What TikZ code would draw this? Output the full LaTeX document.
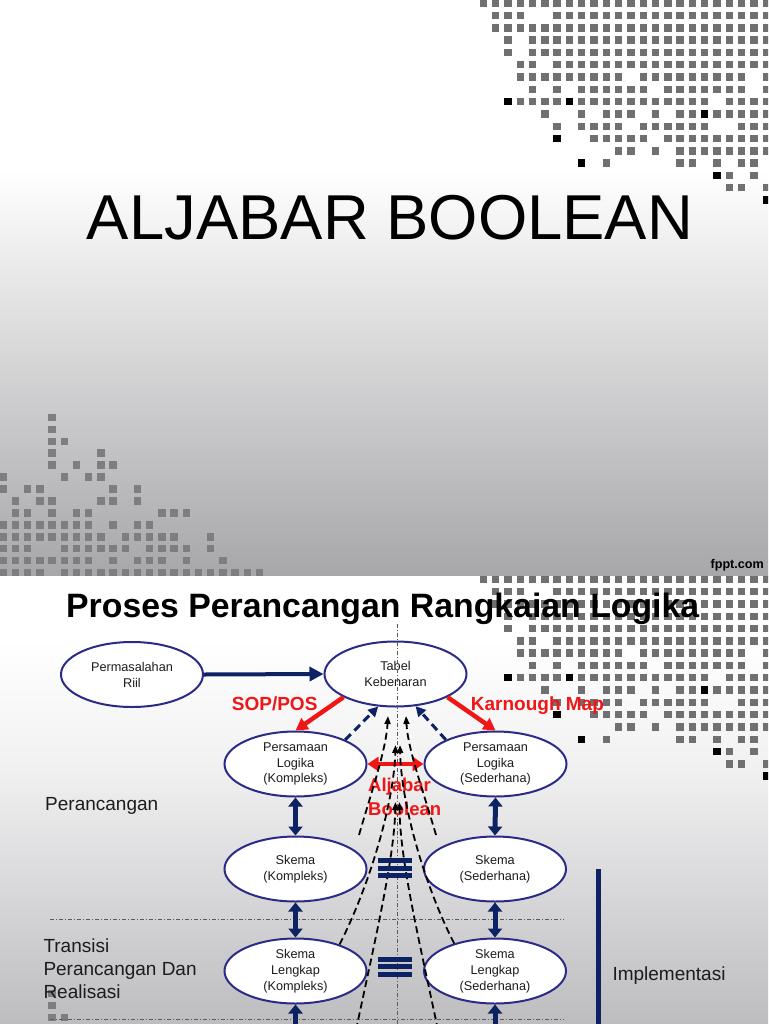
\documentclass[tikz,border=0pt]{standalone}
\usepackage{fontspec}
\setmainfont{Liberation Sans}
\usetikzlibrary{shapes.geometric,arrows.meta}
\definecolor{ellc}{RGB}{43,43,135}
\definecolor{navy}{RGB}{12,34,98}
\definecolor{redc}{RGB}{240,22,22}
\definecolor{sqg}{RGB}{112,112,112}
\definecolor{sqb}{RGB}{126,126,129}
\definecolor{txt}{RGB}{28,28,28}
\definecolor{bgA}{RGB}{167,167,170}
\definecolor{bgB}{RGB}{242,242,243}
\definecolor{bgC}{RGB}{189,189,192}
\definecolor{dd}{RGB}{90,90,90}
\newcommand\myfs[2]{\fontsize{#1}{#2}\selectfont}
\newcommand\trpattern[1]{%
  \foreach \r/\cl in {0/{0,...,23},1/{1,2,3,6,7,...,23},2/{1,...,23},3/{2,4,5,...,23},4/{2,4,5,...,23},5/{3,4,6,7,...,23},6/{3,4,...,11,13,14,...,21,23},7/{4,6,8,9,...,13,15,16,...,21,23},8/{3,4,5,6,8,9,...,18,20,21,22,23},9/{5,8,10,11,12,14,16,17,19,20,...,23},10/{6,8,9,10,11,13,14,...,18,21,22,23},11/{9,10,...,13,15,16,...,23},12/{11,12,14,16,17,...,23},13/{10,16,17,19,21,22},14/{20,22},15/{20,21,23}}{%
    \foreach \c in \cl {\fill[sqg] ({483.3+12.3*\c-3.7},{#1+3.3+12.3*\r-3.7}) rectangle ++(7.4,7.4);}}
  \foreach \c/\r in {2/8,7/8,18/9,6/11,8/13,19/14,23/16}{%
    \fill[black] ({483.3+12.3*\c-3.7},{#1+3.3+12.3*\r-3.7}) rectangle ++(7.4,7.4);}}
\newcommand\blpattern[1]{%
  \foreach \r/\cl in {0/{4},1/{4},2/{4,5},3/{4,8},4/{4,6,8,9},5/{0,5,7,8},6/{0,2,3,9,11},7/{1,3,4,8,9,11},8/{1,2,4,6,7,13,14,15},9/{0,...,7,9,11,12},10/{0,...,8,10,11,...,14,17},11/{0,1,2,5,6,...,10,12,13,14,15,17},12/{0,...,7,9,11,12,13,15,18},13/{0,...,3,5,6,...,21}}{%
    \foreach \c in \cl {\fill[sqb] ({3.3+12.2*\c-3.7},{#1+417.3+11.95*\r-3.7}) rectangle ++(7.4,7.4);}}}
\begin{document}
\begin{tikzpicture}[x=1pt,y=-1pt,
  ell/.style={ellipse, draw=ellc, line width=2pt, fill=white, minimum width=142pt, minimum height=65pt, inner sep=0pt, align=center, text=txt, font=\myfs{12.7}{15.8}},
  navyarr/.style={navy, line width=4pt, -{Triangle[length=14pt,width=14pt]}},
  redarr/.style={redc, line width=4.5pt, -{Triangle[length=12pt,width=13pt]}},
  dblarr/.style={navy, line width=5pt, {Triangle[length=9pt,width=14pt]}-{Triangle[length=9pt,width=14pt]}},
  ndash/.style={navy, line width=3pt, dash pattern=on 8pt off 5pt, -{Triangle[length=10pt,width=10pt]}},
  bdash/.style={black, line width=1.8pt, dash pattern=on 7pt off 4pt, -{Triangle[length=8pt,width=6pt]}},
  ddot/.style={dd, line width=0.7pt, dash pattern=on 4pt off 2pt on 1pt off 2pt},
  redlab/.style={text=redc, font=\bfseries\myfs{19}{23}, inner sep=0pt, anchor=base west},
  lab/.style={text=txt, font=\myfs{19}{22.8}, inner sep=0pt, anchor=base west, align=left},
  bars/.style={navy}
]
\useasboundingbox (0,0) rectangle (768,1024);
\clip (0,0) rectangle (768,1024);
% ---------- slide 1 background ----------
\fill[white] (0,0) rectangle (768,171);
\shade[top color=white, bottom color=bgA] (0,170) rectangle (768,576);
\trpattern{0}
\blpattern{0}
\node[anchor=base, font=\myfs{63.4}{70}, inner sep=0pt, text=black] (t1) at (390,240) {ALJABAR BOOLEAN};
\node[anchor=base east, font=\bfseries\myfs{12.6}{14}, inner sep=0pt, text=black] (fp) at (764,568.3) {fppt.com};
% ---------- slide 2 background ----------
\fill[white] (0,576) rectangle (768,640);
\shade[top color=white, bottom color=bgB] (0,639) rectangle (768,761);
\shade[top color=bgB, bottom color=bgC] (0,760) rectangle (768,1024);
\trpattern{576}
\blpattern{576}
% ---------- slide 2 content ----------
\node[anchor=base west, font=\bfseries\myfs{33.8}{40}, inner sep=0pt, text=black] (t2) at (66,617) {Proses Perancangan Rangkaian Logika};
\node[lab] (per) at (45,810) {Perancangan};
\node[lab] (tr) at (43.3,998.3) {Transisi\\Perancangan Dan\\Realisasi};
\node[lab] (imp) at (612.3,980.7) {Implementasi};
\coordinate (h1a) at (50,919.5); \coordinate (h1b) at (564,919.5);
\coordinate (h2a) at (50,1019.5); \coordinate (h2b) at (564,1019.5);
\draw[ddot] (h1a) -- (h1b);
\draw[ddot] (h2a) -- (h2b);
\node[ell] (pr) at (132,674.5) {Permasalahan\\Riil};
\node[ell] (tk) at (395.5,674) {Tabel\\Kebenaran};
\node[ell] (pk) at (295.5,764) {Persamaan\\Logika\\(Kompleks)};
\node[ell] (ps) at (495.5,764) {Persamaan\\Logika\\(Sederhana)};
\node[ell] (sk) at (295.5,869) {Skema\\(Kompleks)};
\node[ell] (ss) at (495,869) {Skema\\(Sederhana)};
\node[ell] (lk) at (295.5,971) {Skema\\Lengkap\\(Kompleks)};
\node[ell] (ls) at (495,971) {Skema\\Lengkap\\(Sederhana)};
\coordinate (v1) at (397,624); \coordinate (v2) at (397,1024);
\draw[ddot] (v1) -- (v2);
\node[redlab] (sop) at (231.7,710.7) {SOP/POS};
\node[redlab] (km) at (470.7,710.7) {Karnough Map};
\node[redlab, font=\bfseries\myfs{18.5}{23.3}, align=left] (ab) at (368,815) {Aljabar\\Boolean};
\draw[navyarr] (pr.east) -- (tk.west);
\draw[redarr] (tk.204) -- (pk.north);
\draw[redarr] (tk.-24) -- (ps.north);
\draw[ndash] (pk.26) -- (tk.-118);
\draw[ndash] (ps.154) -- (tk.-58);
\draw[redc, line width=4.5pt, {Triangle[length=11pt,width=14pt]}-{Triangle[length=11pt,width=14pt]}] (pk.east) -- (ps.west);
\draw[dblarr] (pk.south) -- (sk.north);
\draw[dblarr] (ps.south) -- (ss.north);
\draw[dblarr] (sk.south) -- (lk.north);
\draw[dblarr] (ss.south) -- (ls.north);
\coordinate (lkout) at (295.5,1050);
\coordinate (lsout) at (495,1050);
\draw[dblarr] (lk.south) -- (lkout);
\draw[dblarr] (ls.south) -- (lsout);
% black dashed sweep curves
\coordinate (a0) at (359,835); \coordinate (a1) at (388,716);
\coordinate (b0) at (436,835); \coordinate (b1) at (406,716);
\coordinate (c1) at (395.5,745); \coordinate (d1) at (400,745);
\coordinate (e0) at (356,1030); \coordinate (e1) at (395.5,802);
\coordinate (f0) at (438,1030); \coordinate (f1) at (399.5,802);
\draw[bdash] (a0) .. controls (372,790) and (386,750) .. (a1);
\draw[bdash] (b0) .. controls (423,790) and (408,750) .. (b1);
\draw[bdash] (lk.31) .. controls (372,880) and (394,800) .. (c1);
\draw[bdash] (ls.146) .. controls (422,880) and (401,800) .. (d1);
\draw[bdash] (e0) .. controls (375,940) and (394,860) .. (e1);
\draw[bdash] (f0) .. controls (419,940) and (400,860) .. (f1);
% equals signs
\fill[bars] (378.3,858.3) rectangle (411.7,863.3);
\fill[bars] (378.3,865.7) rectangle (411.7,870.7);
\fill[bars] (378.3,872.9) rectangle (411.7,877.9);
\fill[bars] (378.3,956.7) rectangle (411.7,961.7);
\fill[bars] (378.3,964.1) rectangle (411.7,969.1);
\fill[bars] (378.3,971.5) rectangle (411.7,976.5);
% implementation bar
\fill[bars] (596,869) rectangle (601.3,1030);
\end{tikzpicture}
\end{document}
